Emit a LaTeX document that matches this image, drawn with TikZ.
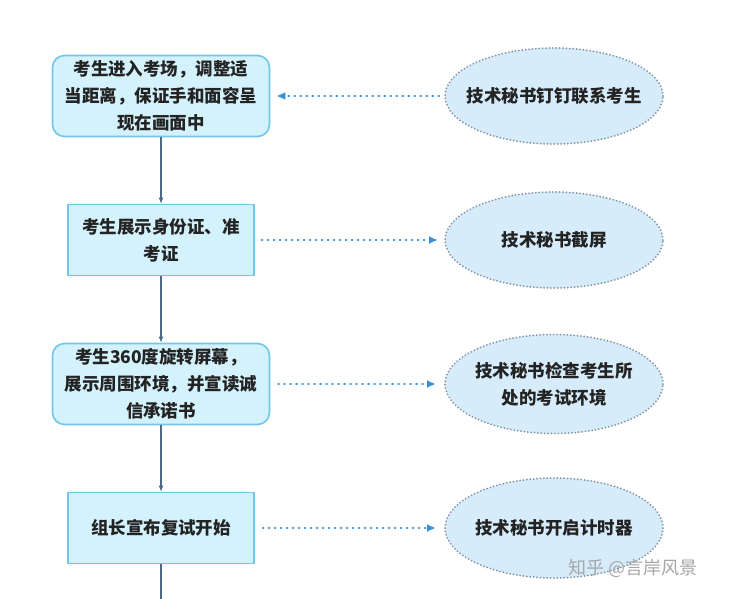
\documentclass[tikz,border=0pt]{standalone}
\usepackage{fontspec}
\setmainfont{Noto Sans CJK SC}
\usepackage{tikz}
\usetikzlibrary{arrows,arrows.meta,shapes.geometric}
\definecolor{boxfill}{RGB}{212,242,252}
\definecolor{boxline}{RGB}{115,198,232}
\definecolor{ellfill}{RGB}{214,236,250}
\definecolor{elldot}{RGB}{130,148,165}
\definecolor{flowline}{RGB}{75,105,135}
\definecolor{callline}{RGB}{55,145,220}
\definecolor{txt}{RGB}{35,35,35}

\begin{document}
\begin{tikzpicture}[x=1pt,y=-1pt,
       stepbox/.style={draw=boxline, fill=boxfill, line width=1.6pt, inner sep=0pt, align=center, text=txt, font=\fontsize{17.5}{27}\selectfont\bfseries},
       roundbox/.style={stepbox, rounded corners=12pt, minimum width=217pt, minimum height=81pt},
       flatbox/.style={stepbox, minimum width=186pt, minimum height=71pt},
       secbox/.style={ellipse, draw=elldot, fill=ellfill, line width=2pt, dash pattern=on 0pt off 3.4pt, line cap=round, inner xsep=-14pt, inner ysep=-10pt, minimum width=218pt, minimum height=96pt, align=center, text=txt, font=\fontsize{17.5}{27}\selectfont\bfseries},
       flow/.style={draw=flowline, line width=1.5pt, -{Latex[length=6pt,width=5pt]}},
       call/.style={draw=callline, line width=2.4pt, dash pattern=on 0.5pt off 5.5pt, line cap=round, -{Latex[length=9pt,width=8pt]}}]
       \useasboundingbox (0,0) rectangle (729,598);

       \node[roundbox] (enter) at (161,96) {考生进入考场，调整适\\当距离，保证手和面容呈\\现在画面中};
       \node[flatbox] (idcard) at (161,240) {考生展示身份证、准\\考证};
       \node[roundbox] (turn) at (161,384) {考生360度旋转屏幕，\\展示周围环境，并宣读诚\\信承诺书};
       \node[flatbox] (start) at (161,528) {组长宣布复试开始};
       \coordinate (tail) at (161,600);

       \node[secbox] (ding) at (554,96) {技术秘书钉钉联系考生};
       \node[secbox] (shot) at (554,240) {技术秘书截屏};
       \node[secbox, minimum height=99pt] (check) at (554,384) {技术秘书检查考生所\\处的考试环境};
       \node[secbox, minimum height=100pt] (timer) at (554,528) {技术秘书开启计时器};

       \draw[flow] (enter) -- (idcard);
       \draw[flow] (idcard) -- (turn);
       \draw[flow] (turn) -- (start);
       \draw[flowline, line width=1.5pt] (start) -- (tail);

       \draw[call, shorten <=5pt, shorten >=6pt] (ding.west) -- (enter.east);
       \draw[call, shorten <=7pt, shorten >=6pt] (idcard.east) -- (shot.west);
       \draw[call, shorten <=8pt, shorten >=8pt] (turn.east) -- (check.west);
       \draw[call, shorten <=8pt, shorten >=8pt] (start.east) -- (timer.west);

       \node[text=gray!70, font=\fontsize{18}{20}\selectfont] (mark) at (633,568) {知乎 @言岸风景};
      \end{tikzpicture}
\end{document}
